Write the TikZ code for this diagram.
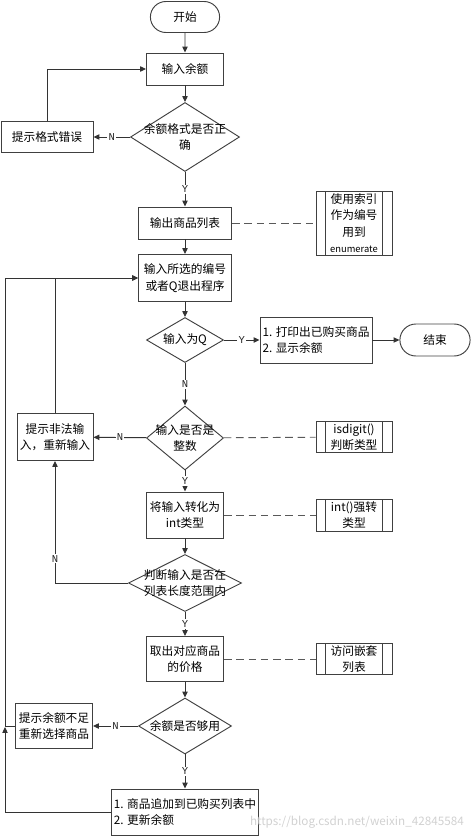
\documentclass[tikz,border=0pt]{standalone}
\usepackage{fontspec}
\setmainfont{Noto Sans CJK SC}
\newfontfamily\ynfont{Liberation Mono}
\usetikzlibrary{arrows.meta,shapes.geometric,shapes.misc}

\begin{document}
\begin{tikzpicture}[x=0.03cm, y=-0.03cm,
  every node/.style={font=\fontsize{10}{14}\selectfont},
  term/.style={draw=black!75, rounded rectangle, line width=0.8pt,
    minimum width=2.31cm, minimum height=0.93cm},
  proc/.style={draw=black!75, rectangle, line width=0.8pt, align=center, inner sep=1pt,
    minimum width=2.31cm, minimum height=0.96cm},
  dec/.style={draw=black!75, diamond, line width=0.8pt, inner sep=0pt},
  note/.style={proc, minimum width=2.28cm, path picture={
    \draw[line width=0.8pt, black!75] ([xshift=0.28cm]path picture bounding box.north west) -- ([xshift=0.28cm]path picture bounding box.south west);
    \draw[line width=0.8pt, black!75] ([xshift=-0.28cm]path picture bounding box.north east) -- ([xshift=-0.28cm]path picture bounding box.south east);}},
  arr/.style={-{Triangle[length=5pt,width=4.5pt]}, line width=0.8pt, black!80},
  dashline/.style={line width=0.8pt, black!65, dash pattern=on 6.5pt off 4pt},
  yn/.style={fill=white, inner sep=1pt, text=black!85, font=\ynfont\fontsize{9}{9}\selectfont}
]
\useasboundingbox (0,0) rectangle (474,836);

% main column
\node[term] (start) at (185,17) {开始};
\node[proc] (bal) at (185,69) {输入余额};
\node[dec, minimum width=3.27cm, minimum height=2.07cm,
  label={[align=center]center:余额格式是否正\\确}] (chk) at (185,137) {};
\node[proc, minimum width=2.76cm, minimum height=0.93cm] (err1) at (47,137) {提示格式错误};
\node[proc, minimum width=2.79cm] (list) at (185,223) {输出商品列表};
\node[note, minimum height=1.92cm] (note1) at (354,223) {使用索引\\作为编号\\用到\\{\fontsize{8}{10}\selectfont enumerate}};
\node[proc, minimum width=2.79cm, minimum height=1.41cm] (choose) at (185,278) {输入所选的编号\\或者Q退出程序};
\node[dec, minimum width=2.31cm, minimum height=1.35cm,
  label={center:输入为Q}] (isq) at (185,340) {};
\node[proc, align=left, minimum width=3.36cm, minimum height=1.38cm] (quit) at (316,340) {1. 打印出已购买商品\\2. 显示余额};
\node[term, minimum width=2.34cm, minimum height=0.96cm] (end) at (435,340) {结束};
\node[dec, minimum width=2.31cm, minimum height=1.92cm,
  label={[align=center]center:输入是否是\\整数}] (isint) at (185,438) {};
\node[proc, minimum width=2.28cm, minimum height=1.41cm] (err2) at (55,437) {提示非法输\\入，重新输入};
\node[note, minimum height=0.93cm] (note2) at (354,437) {isdigit()\\判断类型};
\node[proc, minimum height=1.38cm] (conv) at (185,515) {将输入转化为\\int类型};
\node[note, minimum height=0.96cm] (note3) at (354,515) {int()强转\\类型};
\node[dec, minimum width=3.39cm, minimum height=1.71cm,
  label={[align=center]center:判断输入是否在\\列表长度范围内}] (range) at (185,583) {};
\node[proc, minimum height=1.35cm] (price) at (185,659) {取出对应商品\\的价格};
\node[note, minimum height=0.93cm] (note4) at (354,659) {访问嵌套\\列表};
\node[dec, minimum width=2.79cm, minimum height=1.68cm,
  label={center:余额是否够用}] (enough) at (185,726) {};
\node[proc, minimum height=1.35cm] (err3) at (54,726) {提示余额不足\\重新选择商品};
\node[proc, align=left, minimum width=4.41cm, minimum height=1.38cm] (buy) at (185,812) {1. 商品追加到已购买列表中\\2. 更新余额};
\node[text=black!18, anchor=east] (wm) at (468,822) {https://blog.csdn.net/weixin\_42845584};

\coordinate (back) at (5,727);

% connectors
\draw[arr] (start) -- (bal);
\draw[arr] (bal) -- (chk);
\draw[arr] (chk) -- node[yn]{N} (err1);
\draw[arr] (err1.north) |- (bal.west);
\draw[arr] (chk) -- node[yn]{Y} (list);
\draw[dashline] (list) -- (note1);
\draw[arr] (list) -- (choose);
\draw[arr] (choose) -- (isq);
\draw[arr] (isq) -- node[yn]{Y} (quit);
\draw[arr] (quit) -- (end);
\draw[arr] (isq) -- node[yn]{N} (isint);
\draw[arr] (isint) -- node[yn]{N} (err2);
\draw[dashline] (isint) -- (note2);
\draw[arr] (err2.north) |- (choose.west);
\draw[arr] (isint) -- node[yn]{Y} (conv);
\draw[dashline] (conv) -- (note3);
\draw[arr] (conv) -- (range);
\draw[arr] (range.west) -| node[yn, pos=0.6]{N} (err2.south);
\draw[arr] (range) -- node[yn]{Y} (price);
\draw[dashline] (price) -- (note4);
\draw[arr] (price) -- (enough);
\draw[arr] (enough) -- node[yn]{N} (err3);
\draw[arr] (enough) -- node[yn]{Y} (buy);
\draw[arr] (buy.west) -| (back);
\draw[arr] (err3.west) -- (err3.west -| back) |- (choose.west);
\end{tikzpicture}
\end{document}
